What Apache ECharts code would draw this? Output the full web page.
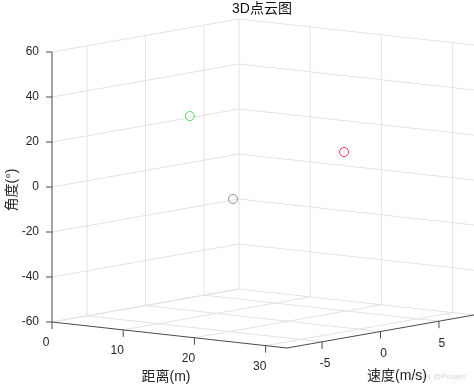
<!DOCTYPE html>
<html><head><meta charset="utf-8">
<script src="https://cdn.jsdelivr.net/npm/echarts@6/dist/echarts.min.js"></script>
<style>html,body{margin:0;padding:0;background:#fff}#c{width:474px;height:385px}</style>
</head><body><div id="c"></div>
<script>
// ---- data ----
const xTicks = [0, 10, 20, 30];
const yTicks = [-5, 0, 5];
const zTicks = [-60, -40, -20, 0, 20, 40, 60];
const xLim = [0, 33];
const yLim = [-8, 8];
const zLim = [-60, 60];
const distance = [10, 20, 15];
const speed = [-2.3, 4.8, -1.65];
const angle = [29.8, 10.8, -5.9];
const pointColors = ['#5ad65a', '#e3344c', '#8f8f8f'];
const titleText = '3D点云图';
const xName = '距离(m)';
const yName = '速度(m/s)';
const zName = '角度(°)';

// ---- layout (screen box of the 3D axes) ----
const W = 474, H = 385;
const ORIGIN = [52, 322];
const SPAN_X = [235, 26];
const SPAN_Y = [187, -33];
const SPAN_Z = [0, -270];
const FONT = "'Liberation Sans','Noto Sans CJK SC',sans-serif";

function project(x, y, z) {
  const fx = (x - xLim[0]) / (xLim[1] - xLim[0]);
  const fy = (y - yLim[0]) / (yLim[1] - yLim[0]);
  const fz = (z - zLim[0]) / (zLim[1] - zLim[0]);
  return [ORIGIN[0] + fx * SPAN_X[0] + fy * SPAN_Y[0] + fz * SPAN_Z[0],
          ORIGIN[1] + fx * SPAN_X[1] + fy * SPAN_Y[1] + fz * SPAN_Z[1]];
}

const [x0, x1] = xLim, [y0, y1] = yLim, [z0, z1] = zLim;
// grid segments
const gridSegs = [];
zTicks.forEach(z => { gridSegs.push([x0, y0, z, x0, y1, z]); gridSegs.push([x0, y1, z, x1, y1, z]); });
yTicks.concat([y1]).forEach(y => gridSegs.push([x0, y, z0, x0, y, z1]));
xTicks.filter(x => x > x0).forEach(x => gridSegs.push([x, y1, z0, x, y1, z1]));
xTicks.forEach(x => gridSegs.push([x, y0, z0, x, y1, z0]));
yTicks.forEach(y => gridSegs.push([x0, y, z0, x1, y, z0]));
// axis segments
const axisSegs = [[x0, y0, z0, x0, y0, z1], [x0, y0, z0, x1, y0, z0], [x1, y0, z0, x1, y1, z0]];
// ticks: [x,y,z,dx,dy]
const tickMarks = [];
zTicks.forEach(z => tickMarks.push([x0, y0, z, -6, 0]));
xTicks.forEach(x => tickMarks.push([x, y0, z0, 0, 7]));
yTicks.forEach(y => tickMarks.push([x1, y, z0, 0, 7]));
// tick labels: [x,y,z,dx,dy,text,align]
const tickLabels = [];
zTicks.forEach(z => tickLabels.push([x0, y0, z, -13, 0, String(z), 'right']));
xTicks.forEach(x => tickLabels.push([x, y0, z0, -6, 21, String(x), 'center']));
yTicks.forEach(y => tickLabels.push([x1, y, z0, 3, 22, String(y), 'center']));

const points = distance.map((d, i) => [d, speed[i], angle[i], i]);

function segSeries(segs, color, width, zl) {
  return {
    type: 'custom', coordinateSystem: 'cartesian2d', data: segs, z: zl, silent: true, animation: false,
    renderItem: (params, api) => {
      const a = api.coord(project(api.value(0), api.value(1), api.value(2)));
      const b = api.coord(project(api.value(3), api.value(4), api.value(5)));
      return { type: 'line', shape: { x1: a[0], y1: a[1], x2: b[0], y2: b[1] },
        style: { stroke: color, lineWidth: width } };
    }
  };
}

const chart = echarts.init(document.getElementById('c'), null, { renderer: 'canvas' });
chart.setOption({
  animation: false,
  backgroundColor: '#ffffff',
  grid: { left: 0, right: 0, top: 0, bottom: 0 },
  xAxis: { type: 'value', min: 0, max: W, show: false },
  yAxis: { type: 'value', min: 0, max: H, inverse: true, show: false },
  graphic: [
    { type: 'text', x: 262, y: 9, z: 10, style: { text: titleText, fill: '#111', font: '14px ' + FONT, align: 'center', verticalAlign: 'middle' } },
    { type: 'text', x: 466, y: 377, z: 9, style: { text: 'CSDN @Poulen', fill: '#d4d4d4', font: '8px ' + FONT, align: 'right', verticalAlign: 'middle' } },
    { type: 'text', x: 166, y: 377, z: 10, style: { text: xName, fill: '#262626', font: '14px ' + FONT, align: 'center', verticalAlign: 'middle' } },
    { type: 'text', x: 397, y: 376, z: 10, style: { text: yName, fill: '#262626', font: '14px ' + FONT, align: 'center', verticalAlign: 'middle' } },
    { type: 'text', x: 12, y: 190, z: 10, rotation: Math.PI / 2, style: { text: zName, fill: '#262626', font: '14px ' + FONT, align: 'center', verticalAlign: 'middle' } }
  ],
  series: [
    segSeries(gridSegs, '#e3e3e3', 1, 1),
    segSeries(axisSegs, '#4a4a4a', 1, 3),
    {
      type: 'custom', coordinateSystem: 'cartesian2d', data: tickMarks, z: 3, silent: true, animation: false,
      renderItem: (params, api) => {
        const a = api.coord(project(api.value(0), api.value(1), api.value(2)));
        return { type: 'line', shape: { x1: a[0], y1: a[1], x2: a[0] + api.value(3), y2: a[1] + api.value(4) },
          style: { stroke: '#4a4a4a', lineWidth: 1 } };
      }
    },
    {
      type: 'custom', coordinateSystem: 'cartesian2d', data: tickLabels, z: 4, silent: true, animation: false,
      renderItem: (params, api) => {
        const d = tickLabels[params.dataIndex];
        const a = api.coord(project(d[0], d[1], d[2]));
        return { type: 'text', x: a[0] + d[3], y: a[1] + d[4],
          style: { text: d[5], fill: '#262626', font: '12px ' + FONT, align: d[6], verticalAlign: 'middle' } };
      }
    },
    {
      type: 'custom', coordinateSystem: 'cartesian2d', data: points, z: 5, silent: true, animation: false,
      renderItem: (params, api) => {
        const a = api.coord(project(api.value(0), api.value(1), api.value(2)));
        return { type: 'circle', shape: { cx: a[0], cy: a[1], r: 4.5 },
          style: { stroke: pointColors[api.value(3)], fill: 'none', lineWidth: 1 } };
      }
    }
  ]
});
</script></body></html>
